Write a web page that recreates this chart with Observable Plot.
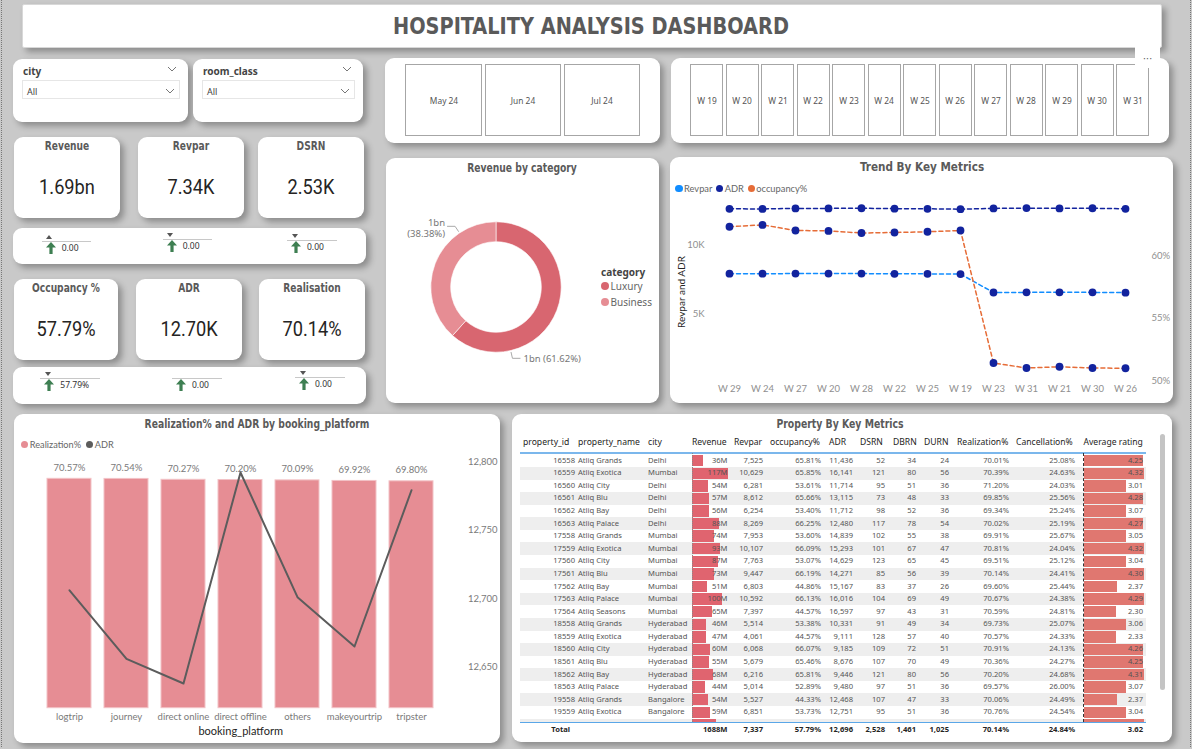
<!DOCTYPE html>
<html>
<head>
<meta charset="utf-8">
<script src="https://cdn.jsdelivr.net/npm/d3@7"></script>
<script src="https://cdn.jsdelivr.net/npm/@observablehq/plot@0.6"></script>
<style>
html,body{margin:0;padding:0;}
body{width:1192px;height:749px;background:#C9C9C9;position:relative;overflow:hidden;font-family:"Noto Sans","Open Sans",sans-serif;}
#root{position:absolute;left:0;top:0;width:1192px;height:749px;}
.panel{position:absolute;background:#fff;border-radius:9px;box-shadow:4px 4px 6px rgba(0,0,0,0.30);}
.t{position:absolute;white-space:nowrap;line-height:1;}
.ov{position:absolute;}
.ov svg{position:absolute;left:0;top:0;}
svg{display:block;}
</style>
</head>
<body>
<div id="root"></div>
<script>
// ================= DATA =================
const dashboardTitle = "HOSPITALITY ANALYSIS DASHBOARD";
const filterNames = ["city", "room_class"];
const filterValues = ["All", "All"];
const months = ["May 24", "Jun 24", "Jul 24"];
const weeks = ["W 19","W 20","W 21","W 22","W 23","W 24","W 25","W 26","W 27","W 28","W 29","W 30","W 31"];

const kpiNames = ["Revenue", "Revpar", "DSRN", "Occupancy %", "ADR", "Realisation"];
const kpiValues = ["1.69bn", "7.34K", "2.53K", "57.79%", "12.70K", "70.14%"];
const kpiDeltas = ["0.00", "0.00", "0.00", "57.79%", "0.00", "0.00"];

const categories = ["Luxury", "Business"];
const categoryShare = [61.62, 38.38];
const categoryRevenueLabel = ["1bn", "1bn"];

const trendWeeks = ["W 29","W 24","W 27","W 20","W 28","W 22","W 25","W 19","W 23","W 31","W 21","W 30","W 26"];
const trendRevpar = [7920, 7920, 7930, 7930, 7930, 7910, 7910, 7890, 6540, 6550, 6550, 6550, 6530];
const trendAdr = [12690, 12680, 12720, 12720, 12730, 12700, 12690, 12660, 12720, 12740, 12720, 12730, 12690];
const trendOccupancy = [62.3, 62.45, 62.0, 61.97, 61.8, 61.84, 61.9, 62.0, 51.4, 51.0, 51.1, 51.0, 50.98];

const platforms = ["logtrip","journey","direct online","direct offline","others","makeyourtrip","tripster"];
const platformRealization = [70.57, 70.54, 70.27, 70.20, 70.09, 69.92, 69.80];
const platformAdr = [12706, 12656, 12638, 12792, 12701, 12665, 12779];

const tableHeaders = ["property_id","property_name","city","Revenue","Revpar","occupancy%","ADR","DSRN","DBRN","DURN","Realization%","Cancellation%","Average rating"];
const propertyIds = [16558,16559,16560,16561,16562,16563,17558,17559,17560,17561,17562,17563,17564,18558,18559,18560,18561,18562,18563,19558,19559,19560];
const propertyNames = ["Atliq Grands","Atliq Exotica","Atliq City","Atliq Blu","Atliq Bay","Atliq Palace","Atliq Grands","Atliq Exotica","Atliq City","Atliq Blu","Atliq Bay","Atliq Palace","Atliq Seasons","Atliq Grands","Atliq Exotica","Atliq City","Atliq Blu","Atliq Bay","Atliq Palace","Atliq Grands","Atliq Exotica","Atliq City"];
const propertyCities = ["Delhi","Mumbai","Delhi","Delhi","Delhi","Delhi","Mumbai","Mumbai","Mumbai","Mumbai","Mumbai","Mumbai","Mumbai","Hyderabad","Hyderabad","Hyderabad","Hyderabad","Hyderabad","Hyderabad","Bangalore","Bangalore","Bangalore"];
const propertyRevenueM = [36,117,54,57,56,88,74,93,87,73,51,100,65,46,47,60,55,68,44,54,59,79];
const propertyRevpar = [7525,10629,6281,8612,6254,8269,7953,10107,7763,9447,6803,10592,7397,5514,4061,6068,5679,6216,5014,5527,6851,8350];
const propertyOccupancy = [65.81,65.85,53.61,65.66,53.40,66.25,53.60,66.09,53.07,66.19,44.86,66.13,44.57,53.38,44.57,66.07,65.46,65.81,52.89,44.33,53.73,64.90];
const propertyAdr = [11436,16141,11714,13115,11712,12480,14839,15293,14629,14271,15167,16016,16597,10331,9111,9185,8676,9446,9480,12468,12751,12870];
const propertyDsrn = [52,121,95,73,98,117,102,101,123,85,83,104,97,91,128,109,107,121,97,107,95,118];
const propertyDbrn = [34,80,51,48,52,78,55,67,65,56,37,69,43,49,57,72,70,80,51,47,51,77];
const propertyDurn = [24,56,36,33,36,54,38,47,45,39,26,49,31,34,40,51,49,56,36,33,36,54];
const propertyRealization = [70.01,70.39,71.20,69.85,69.34,70.02,69.91,70.81,69.51,70.14,69.60,70.67,70.59,69.73,70.57,70.91,70.36,70.20,69.57,70.06,70.76,70.03];
const propertyCancellation = [25.08,24.63,24.03,25.56,25.24,25.19,25.67,24.04,25.12,24.41,25.44,24.38,24.81,25.07,24.33,24.13,24.27,24.68,26.00,24.49,24.54,24.90];
const propertyRating = [4.25,4.32,3.01,4.28,3.07,4.27,3.05,4.32,3.04,4.30,2.37,4.29,2.30,3.06,2.33,4.26,4.25,4.31,3.07,2.37,3.04,4.31];
const tableTotals = ["Total","","","1688M","7,337","57.79%","12,696","2,528","1,461","1,025","70.14%","24.84%","3.62"];

// ================= HELPERS =================
const root = document.getElementById("root");
const TITLE_FONT = '"DejaVu Sans Condensed","DejaVu Sans",sans-serif';
const UI_FONT = '"Noto Sans","Open Sans",sans-serif';
const CHART_FONT = 'Lato,"Noto Sans",sans-serif';
const VALUE_FONT = 'Roboto,"Noto Sans",sans-serif';

function P(x, y, w, h, css = "") {
  const d = document.createElement("div");
  d.className = "panel";
  d.style.cssText = `left:${x}px;top:${y}px;width:${w}px;height:${h}px;${css}`;
  root.appendChild(d);
  return d;
}
function B(x, y, w, h, css = "", parent = root) {
  const d = document.createElement("div");
  d.style.cssText = `position:absolute;left:${x}px;top:${y}px;width:${w}px;height:${h}px;${css}`;
  parent.appendChild(d);
  return d;
}
function T(x, y, s, css = "", ax = 0, ay = 0.5, parent = root) {
  const d = document.createElement("div");
  d.className = "t";
  d.textContent = s;
  d.style.cssText = `left:${x}px;top:${y}px;transform:translate(${-ax * 100}%,${-ay * 100}%);${css}`;
  parent.appendChild(d);
  return d;
}
function chevron(x, y, color = "#777") {
  const d = B(x - 5, y - 3, 10, 6, "");
  d.innerHTML = `<svg width="10" height="6"><polyline points="1,1 5,5 9,1" fill="none" stroke="${color}" stroke-width="1"/></svg>`;
}
function upArrow(x, y) {
  const d = B(x - 5, y - 6, 10, 12, "");
  d.innerHTML = `<svg width="10" height="12"><path d="M5 0 L10 5.5 L6.6 5.5 L6.6 12 L3.4 12 L3.4 5.5 L0 5.5Z" fill="#3E7F52"/></svg>`;
}
function tri(x, y, up) {
  const d = B(x - 3, y - 2, 6, 4, "");
  d.innerHTML = up
    ? `<svg width="6" height="4"><path d="M0 4 L3 0 L6 4Z" fill="#555"/></svg>`
    : `<svg width="6" height="4"><path d="M0 0 L3 4 L6 0Z" fill="#555"/></svg>`;
}
const titleCss = (size, sx) => `font-family:${TITLE_FONT};font-weight:bold;font-size:${size}px;color:#5A5A5A;transform:translate(-50%,-50%) scaleX(${sx});`;

// canvas dotted border
B(1, 0, 1188, 747, "border-left:1px dotted #777;border-right:1px dotted #777;");

// ================= TITLE =================
P(22, 4, 1138, 42, "border-radius:2px;border:1px solid #d8d8d8;");
{
  const s = B(22, 4, 1138, 42, "");
  s.innerHTML = `<svg width="1138" height="42"><text x="569" y="30" text-anchor="middle" textLength="396" lengthAdjust="spacingAndGlyphs" font-family='${TITLE_FONT}' font-weight="bold" font-size="23" fill="#5A5A5A">${dashboardTitle}</text></svg>`;
}

// ================= FILTERS =================
const filterBoxes = [[13, 59, 175, 63], [193, 59, 170, 63]];
filterNames.forEach((name, i) => {
  const [x, y, w, h] = filterBoxes[i];
  P(x, y, w, h);
  T(x + 10, 70.5, name, `font-family:${UI_FONT};font-weight:bold;font-size:10px;color:#444;`);
  chevron(x + w - 16, 69);
  B(x + 9, 80, w - 17, 19, "border:1px solid #e6e6e6;box-sizing:border-box;");
  T(x + 14, 90.5, filterValues[i], `font-family:${UI_FONT};font-size:9px;color:#444;`);
  chevron(x + w - 18, 90.5);
});

// ================= KPI CARDS =================
const kpiCards = [[14,137,106,81],[138,137,106,81],[258,137,106,81],[14,279,104,81],[136,279,106,81],[259,279,106,81]];
kpiNames.forEach((name, i) => {
  const [x, y, w, h] = kpiCards[i];
  P(x, y, w, h);
  T(x + w / 2, y + 9.5, name, titleCss(11.5, 0.88), 0.5, 0.5);
  T(x + w / 2, y + 49.5, kpiValues[i], `font-family:${VALUE_FONT};font-size:20px;color:#252423;transform:translate(-50%,-50%) scaleX(0.91);`, 0.5, 0.5);
});
P(13, 228, 353, 36);
P(13, 367, 353, 37);
const deltaPos = [[50.7,248.3,true],[171.7,246,false],[296,247.3,false],[49.3,385,false],[181,385,null],[304,384.3,false]];
kpiDeltas.forEach((v, i) => {
  const [x, y, up] = deltaPos[i];
  T(x + 11, y, v, `font-family:${UI_FONT};font-size:8.5px;color:#333;`);
  const tw = v.length * 4.9;
  B(x - 9, y - 7.5, 20 + tw + 10, 1, "background:#c8c8c8;");
  if (up !== null) tri(x - 1.5, y - 11, up);
  upArrow(x, y);
});

// ================= DATE SLICERS =================
P(385, 58, 275, 85);
months.forEach((m, i) => {
  const x = 405.4 + i * 79.1;
  B(x, 64.3, 76.6, 71.7, "border:1px solid #a6a6a6;box-sizing:border-box;background:#fff;");
  T(x + 38.3, 100.5, m, `font-family:${UI_FONT};font-size:9.5px;color:#555;transform:translate(-50%,-50%) scaleX(0.88);`, 0.5, 0.5);
});
P(671, 58, 498, 85);
weeks.forEach((w, i) => {
  const x = 690 + i * 35.5;
  B(x, 64.3, 33.2, 71.7, "border:1px solid #a6a6a6;box-sizing:border-box;background:#fff;");
  T(x + 16.6, 100.5, w, `font-family:${UI_FONT};font-size:9.5px;color:#555;transform:translate(-50%,-50%) scaleX(0.88);`, 0.5, 0.5);
});
// more-options box
B(1135, 47, 25, 21, "background:#fff;");
T(1147.5, 59, "• • •", `font-family:${UI_FONT};font-size:5px;color:#555;`, 0.5, 0.5);

// ================= DONUT: Revenue by category =================
P(386, 158, 273, 245);
T(522, 168.5, "Revenue by category", titleCss(11.5, 0.89), 0.5, 0.5);
const catColors = ["#D86670", "#E68D94"];
const catData = categories.map((c, i) => ({category: c, share: categoryShare[i], label: categoryRevenueLabel[i]}));
const labelAngles = {Luxury: 167, Business: 326}; // label anchor angles (degrees clockwise from 12 o'clock)
{
  const W = 220, H = 200, cx0 = 496.3, cy0 = 287.3;
  const host = B(cx0 - W / 2, cy0 - H / 2, W, H, "", root);
  host.className = "ov";
  const outerR = 65.2, innerR = 45.3;
  const chart = Plot.plot({
    width: W, height: H, margin: 0,
    x: {domain: [-1, 1], range: [W / 2 - outerR, W / 2 + outerR], axis: null},
    y: {domain: [-1, 1], range: [H / 2 + outerR, H / 2 - outerR], axis: null},
    style: {background: "transparent", overflow: "visible"},
    marks: [
      Plot.dot(catData, {x: () => 0, y: () => 0, r: 0}),
      (index, scales, values, dims) => {
        const cx = scales.x(0), cy = scales.y(0), r = scales.x(1) - scales.x(0);
        const g = d3.create("svg:g").attr("transform", `translate(${cx},${cy})`);
        const pie = d3.pie().sort(null).value(d => d.share)(catData);
        const arc = d3.arc().innerRadius(r * innerR / outerR).outerRadius(r);
        g.selectAll("path.s").data(pie).join("path")
          .attr("d", arc)
          .attr("fill", (d, i) => catColors[i])
          .attr("stroke", "#fff").attr("stroke-width", 0.6);
        pie.forEach(p => {
          const a = labelAngles[p.data.category] * Math.PI / 180;
          const x1 = Math.sin(a) * (r + 1.5), y1 = -Math.cos(a) * (r + 1.5);
          const x2 = Math.sin(a) * (r + 8), y2 = -Math.cos(a) * (r + 8);
          const dir = Math.sin(a) >= 0 ? 1 : -1;
          const x3 = x2 + dir * 8;
          g.append("polyline").attr("points", `${x1},${y1} ${x2},${y2} ${x3},${y2}`)
            .attr("fill", "none").attr("stroke", "#aaa").attr("stroke-width", 1);
          const pct = "(" + p.data.share.toFixed(2) + "%)";
          const tstyle = (t) => t.attr("font-family", UI_FONT).attr("font-size", 9.5).attr("fill", "#777");
          if (dir > 0) {
            tstyle(g.append("text").attr("x", x3 + 3).attr("y", y2 + 3.5).attr("text-anchor", "start").text(p.data.label + " " + pct));
          } else {
            tstyle(g.append("text").attr("x", x3 - 2).attr("y", y2 - 0.5).attr("text-anchor", "end").text(p.data.label));
            tstyle(g.append("text").attr("x", x3 - 2).attr("y", y2 + 11).attr("text-anchor", "end").text(pct));
          }
        });
        return g.node();
      }
    ]
  });
  host.appendChild(chart);
}
T(601, 271.5, "category", `font-family:${UI_FONT};font-weight:bold;font-size:10px;color:#444;`);
categories.forEach((c, i) => {
  const y = 285.7 + i * 16.6;
  B(600.5, y - 4, 8, 8, `border-radius:50%;background:${catColors[i]};`);
  T(610.5, y, c, `font-family:${UI_FONT};font-size:10px;color:#666;`);
});

// ================= TREND BY KEY METRICS =================
P(670, 157, 503, 246);
T(922, 167, "Trend By Key Metrics", titleCss(12.5, 0.93), 0.5, 0.5);
const trendColors = {Revpar: "#118DFF", ADR: "#12239E", "occupancy%": "#E66C37"};
[["Revpar", 679], ["ADR", 719.7], ["occupancy%", 751.3]].forEach(([k, x]) => {
  B(x - 3.8, 188.3 - 3.8, 7.6, 7.6, `border-radius:50%;background:${trendColors[k]};`);
  T(x + 5, 188.5, k, `font-family:${CHART_FONT};font-size:9.3px;color:#666;`);
});
T(680.7, 292, "Revpar and ADR", `font-family:${CHART_FONT};font-size:10px;color:#252423;transform:translate(-50%,-50%) rotate(-90deg);`, 0.5, 0.5);
{
  const trendData = trendWeeks.map((w, i) => ({week: w, revpar: trendRevpar[i], adr: trendAdr[i], occ: trendOccupancy[i]}));
  const W = 502, H = 208;
  const host = B(670, 195, W, H, "");
  host.className = "ov";
  const common = {
    width: W, height: H, marginLeft: 37, marginRight: 25, marginTop: 5, marginBottom: 22,
    style: {background: "transparent", fontFamily: CHART_FONT, fontSize: "9.5px", color: "#8f8f8f", overflow: "visible"}
  };
  const dash = "4,3";
  const left = Plot.plot({
    ...common,
    x: {type: "point", domain: trendWeeks, padding: 0.5},
    y: {domain: [0, 13300]},
    marks: [
      Plot.axisX({tickSize: 0, tickPadding: 4, label: null}),
      Plot.axisY({ticks: [5000, 10000], tickFormat: d => d / 1000 + "K", tickSize: 0, tickPadding: 3, label: null}),
      Plot.line(trendData, {x: "week", y: "revpar", stroke: trendColors.Revpar, strokeWidth: 1.5, strokeDasharray: dash}),
      Plot.line(trendData, {x: "week", y: "adr", stroke: trendColors.ADR, strokeWidth: 1.5, strokeDasharray: dash}),
      Plot.dot(trendData, {x: "week", y: "revpar", r: 3.9, fill: "#12239E"}),
      Plot.dot(trendData, {x: "week", y: "adr", r: 3.9, fill: "#12239E"})
    ]
  });
  const right = Plot.plot({
    ...common,
    x: {type: "point", domain: trendWeeks, padding: 0.5, axis: null},
    y: {domain: [49.92, 64.4]},
    marks: [
      Plot.axisY({anchor: "right", ticks: [50, 55, 60], tickFormat: d => d + "%", tickSize: 0, tickPadding: 4, label: null}),
      Plot.line(trendData, {x: "week", y: "occ", stroke: trendColors["occupancy%"], strokeWidth: 1.5, strokeDasharray: dash}),
      Plot.dot(trendData, {x: "week", y: "occ", r: 3.9, fill: "#12239E"})
    ]
  });
  host.appendChild(left);
  host.appendChild(right);
}

// ================= REALIZATION% AND ADR BY PLATFORM =================
P(14, 414, 486, 329);
T(257, 424.5, "Realization% and ADR by booking_platform", titleCss(11.5, 0.89), 0.5, 0.5);
const barColor = "#E68D94", adrLineColor = "#5C5C5C";
[["Realization%", 24.3, barColor], ["ADR", 89.3, adrLineColor]].forEach(([k, x, c]) => {
  B(x - 3.8, 444.3 - 3.8, 7.6, 7.6, `border-radius:50%;background:${c};`);
  T(x + 5.5, 444.5, k, `font-family:${CHART_FONT};font-size:9.2px;color:#666;`);
});
T(240.7, 730, "booking_platform", `font-family:${CHART_FONT};font-size:11px;color:#252423;`, 0.5, 0.5);
{
  const barData = platforms.map((p, i) => ({platform: p, realization: platformRealization[i], adr: platformAdr[i]}));
  const W = 488, H = 292;
  const host = B(12, 450, W, H, "");
  host.className = "ov";
  const common = {
    width: W, height: H, marginLeft: 26.4, marginRight: 57.6, marginTop: 11, marginBottom: 34.3,
    style: {background: "transparent", fontFamily: CHART_FONT, fontSize: "9.5px", color: "#7a7a7a", overflow: "visible"}
  };
  const xScale = {type: "band", domain: platforms, paddingInner: 0.22, paddingOuter: 0.1};
  const bars = Plot.plot({
    ...common,
    x: xScale,
    y: {domain: [0, 75.9], axis: null},
    marks: [
      Plot.barY(barData, {x: "platform", y: "realization", fill: barColor, stroke: "#F2C2C6", strokeWidth: 1}),
      Plot.text(barData, {x: "platform", y: "realization", text: d => d.realization.toFixed(2) + "%", dy: -11, fill: "#7a7a7a", fontSize: 9.5}),
      Plot.axisX({tickSize: 0, tickPadding: 5, label: null})
    ]
  });
  const line = Plot.plot({
    ...common,
    x: {...xScale, axis: null},
    y: {domain: [12620, 12800]},
    marks: [
      Plot.axisY({anchor: "right", ticks: [12650, 12700, 12750, 12800], tickFormat: d3.format(","), tickSize: 0, tickPadding: 25, label: null}),
      Plot.line(barData, {x: "platform", y: "adr", stroke: adrLineColor, strokeWidth: 2})
    ]
  });
  host.appendChild(bars);
  host.appendChild(line);
}

// ================= TABLE =================
P(512, 414, 660, 328);
T(840, 424.5, "Property By Key Metrics", titleCss(11.5, 0.9), 0.5, 0.5);
const headerLeft = [523, 578, 648, 692, 734, 770, 829, 860, 893, 924, 957, 1016, 1083.5];
tableHeaders.forEach((h, i) => T(headerLeft[i], 442.3, h, `font-family:${UI_FONT};font-size:8.6px;color:#252423;`));
B(520, 452, 626, 1.5, "background:#7BB7EC;");
// scrollbar
B(1160, 434, 5, 256, "background:#C4C4C4;border-radius:3px;");
{
  const clipH = 269;
  const clip = B(0, 453, 1192, clipH, "overflow:hidden;");
  const rowY0 = 460.7 - 453, rowStep = 12.58;
  const revScale = Plot.scale({x: {domain: [0, d3.max(propertyRevenueM)], range: [0, 35.5]}});
  const ratingScale = Plot.scale({x: {domain: [0, d3.max(propertyRating)], range: [0, 60.5]}});
  const f = d3.format(",");
  const cs = `font-family:${UI_FONT};font-size:7.6px;color:#555;`;
  propertyIds.forEach((id, i) => {
    const y = rowY0 + i * rowStep;
    if (i % 2 === 1) B(520, y - rowStep / 2, 626, rowStep, "background:#EEEEEE;", clip);
    B(692, y - 5.7, revScale.apply(propertyRevenueM[i]), 11.4, "background:#E0646F;", clip);
    B(1083.5, y - 5.7, ratingScale.apply(propertyRating[i]), 11.4, "background:#E07770;", clip);
    if (y + 4 > clipH) return; // row scrolled under the total line: only its bars peek out
    T(575, y, String(id), cs, 1, 0.5, clip);
    T(578, y, propertyNames[i], cs, 0, 0.5, clip);
    T(648, y, propertyCities[i], cs, 0, 0.5, clip);
    T(727.5, y, propertyRevenueM[i] + "M", cs, 1, 0.5, clip);
    T(763, y, f(propertyRevpar[i]), cs, 1, 0.5, clip);
    T(821, y, propertyOccupancy[i].toFixed(2) + "%", cs, 1, 0.5, clip);
    T(853, y, f(propertyAdr[i]), cs, 1, 0.5, clip);
    T(885, y, String(propertyDsrn[i]), cs, 1, 0.5, clip);
    T(916, y, String(propertyDbrn[i]), cs, 1, 0.5, clip);
    T(949, y, String(propertyDurn[i]), cs, 1, 0.5, clip);
    T(1009, y, propertyRealization[i].toFixed(2) + "%", cs, 1, 0.5, clip);
    T(1075, y, propertyCancellation[i].toFixed(2) + "%", cs, 1, 0.5, clip);
    T(1143, y, propertyRating[i].toFixed(2), cs, 1, 0.5, clip);
  });
  B(691.5, 0, 0, clipH, "border-left:1px dotted #888;", clip);
  B(1083, 0, 0, clipH, "border-left:1px dashed #333;", clip);
}
B(520, 721.5, 626, 1.5, "background:#5AA7E8;");
{
  const ts = `font-family:${UI_FONT};font-size:7.6px;font-weight:bold;color:#252423;`;
  const totalRight = [570, null, null, 727.5, 763, 821, 853, 885, 916, 949, 1009, 1075, 1143];
  tableTotals.forEach((v, i) => {
    if (!v) return;
    T(totalRight[i], 729.5, v, ts, 1, 0.5);
  });
}
</script>
</body>
</html>
